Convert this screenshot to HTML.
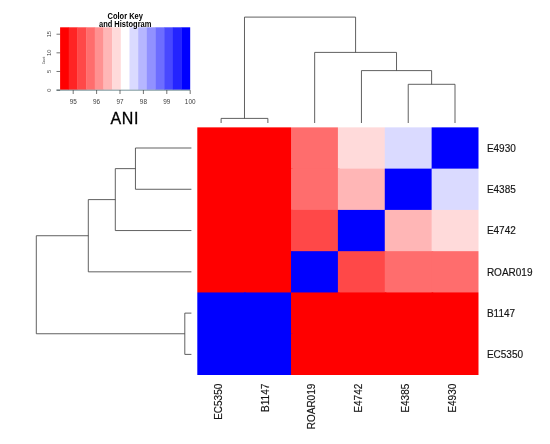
<!DOCTYPE html>
<html lang="en"><head><meta charset="utf-8"><title>ANI heatmap</title>
<style>html,body{margin:0;padding:0;background:#fff;}body{width:550px;height:444px;overflow:hidden;}svg{display:block;}text{font-family:"Liberation Sans",Arial,sans-serif;}</style></head><body>
<svg width="550" height="444" viewBox="0 0 550 444">
<rect x="0" y="0" width="550" height="444" fill="#ffffff"/>
<mask id="hm" maskUnits="userSpaceOnUse" x="190" y="120" width="300" height="265"><rect x="197.3" y="127.36" width="281.20" height="247.64" fill="#fff"/></mask>
<g mask="url(#hm)">
<rect x="195.30" y="125.36" width="50.47" height="44.87" fill="#FF0000"/>
<rect x="244.17" y="125.36" width="48.47" height="44.87" fill="#FF0000"/>
<rect x="291.03" y="125.36" width="48.47" height="44.87" fill="#FF6D6D"/>
<rect x="337.90" y="125.36" width="48.47" height="44.87" fill="#FFDADA"/>
<rect x="384.77" y="125.36" width="48.47" height="44.87" fill="#DADAFF"/>
<rect x="431.63" y="125.36" width="50.47" height="44.87" fill="#0000FF"/>
<rect x="195.30" y="168.63" width="50.47" height="42.87" fill="#FF0000"/>
<rect x="244.17" y="168.63" width="48.47" height="42.87" fill="#FF0000"/>
<rect x="291.03" y="168.63" width="48.47" height="42.87" fill="#FF6D6D"/>
<rect x="337.90" y="168.63" width="48.47" height="42.87" fill="#FFB6B6"/>
<rect x="384.77" y="168.63" width="48.47" height="42.87" fill="#0000FF"/>
<rect x="431.63" y="168.63" width="50.47" height="42.87" fill="#DADAFF"/>
<rect x="195.30" y="209.91" width="50.47" height="42.87" fill="#FF0000"/>
<rect x="244.17" y="209.91" width="48.47" height="42.87" fill="#FF0000"/>
<rect x="291.03" y="209.91" width="48.47" height="42.87" fill="#FF4848"/>
<rect x="337.90" y="209.91" width="48.47" height="42.87" fill="#0000FF"/>
<rect x="384.77" y="209.91" width="48.47" height="42.87" fill="#FFB6B6"/>
<rect x="431.63" y="209.91" width="50.47" height="42.87" fill="#FFDADA"/>
<rect x="195.30" y="251.18" width="50.47" height="42.87" fill="#FF0000"/>
<rect x="244.17" y="251.18" width="48.47" height="42.87" fill="#FF0000"/>
<rect x="291.03" y="251.18" width="48.47" height="42.87" fill="#0000FF"/>
<rect x="337.90" y="251.18" width="48.47" height="42.87" fill="#FF4848"/>
<rect x="384.77" y="251.18" width="48.47" height="42.87" fill="#FF6D6D"/>
<rect x="431.63" y="251.18" width="50.47" height="42.87" fill="#FF6D6D"/>
<rect x="195.30" y="292.45" width="50.47" height="42.87" fill="#0000FF"/>
<rect x="244.17" y="292.45" width="48.47" height="42.87" fill="#0000FF"/>
<rect x="291.03" y="292.45" width="48.47" height="42.87" fill="#FF0000"/>
<rect x="337.90" y="292.45" width="48.47" height="42.87" fill="#FF0000"/>
<rect x="384.77" y="292.45" width="48.47" height="42.87" fill="#FF0000"/>
<rect x="431.63" y="292.45" width="50.47" height="42.87" fill="#FF0000"/>
<rect x="195.30" y="333.73" width="50.47" height="44.87" fill="#0000FF"/>
<rect x="244.17" y="333.73" width="48.47" height="44.87" fill="#0000FF"/>
<rect x="291.03" y="333.73" width="48.47" height="44.87" fill="#FF0000"/>
<rect x="337.90" y="333.73" width="48.47" height="44.87" fill="#FF0000"/>
<rect x="384.77" y="333.73" width="48.47" height="44.87" fill="#FF0000"/>
<rect x="431.63" y="333.73" width="50.47" height="44.87" fill="#FF0000"/>
</g>
<g>
<rect x="60.10" y="27.3" width="8.97" height="62.40" fill="#FF0000"/>
<rect x="68.77" y="27.3" width="8.97" height="62.40" fill="#FF2424"/>
<rect x="77.45" y="27.3" width="8.97" height="62.40" fill="#FF4848"/>
<rect x="86.12" y="27.3" width="8.97" height="62.40" fill="#FF6D6D"/>
<rect x="94.79" y="27.3" width="8.97" height="62.40" fill="#FF9191"/>
<rect x="103.47" y="27.3" width="8.97" height="62.40" fill="#FFB6B6"/>
<rect x="112.14" y="27.3" width="8.97" height="62.40" fill="#FFDADA"/>
<rect x="120.81" y="27.3" width="8.97" height="62.40" fill="#FFFFFF"/>
<rect x="129.49" y="27.3" width="8.97" height="62.40" fill="#DADAFF"/>
<rect x="138.16" y="27.3" width="8.97" height="62.40" fill="#B6B6FF"/>
<rect x="146.83" y="27.3" width="8.97" height="62.40" fill="#9191FF"/>
<rect x="155.51" y="27.3" width="8.97" height="62.40" fill="#6D6DFF"/>
<rect x="164.18" y="27.3" width="8.97" height="62.40" fill="#4848FF"/>
<rect x="172.85" y="27.3" width="8.97" height="62.40" fill="#2424FF"/>
<rect x="181.53" y="27.3" width="8.67" height="62.40" fill="#0000FF"/>
</g>
<line x1="56.50" y1="90.20" x2="190.20" y2="90.20" stroke="#1f4f58" stroke-width="1" stroke-opacity="0.6"/>
<line x1="73.20" y1="90.20" x2="73.20" y2="94.00" stroke="#000000" stroke-width="1" stroke-opacity="0.55"/>
<text x="73.20" y="104" font-size="6.4" text-anchor="middle" fill="#3c3c3c">95</text>
<line x1="96.60" y1="90.20" x2="96.60" y2="94.00" stroke="#000000" stroke-width="1" stroke-opacity="0.55"/>
<text x="96.60" y="104" font-size="6.4" text-anchor="middle" fill="#3c3c3c">96</text>
<line x1="120.00" y1="90.20" x2="120.00" y2="94.00" stroke="#000000" stroke-width="1" stroke-opacity="0.55"/>
<text x="120.00" y="104" font-size="6.4" text-anchor="middle" fill="#3c3c3c">97</text>
<line x1="143.40" y1="90.20" x2="143.40" y2="94.00" stroke="#000000" stroke-width="1" stroke-opacity="0.55"/>
<text x="143.40" y="104" font-size="6.4" text-anchor="middle" fill="#3c3c3c">98</text>
<line x1="166.80" y1="90.20" x2="166.80" y2="94.00" stroke="#000000" stroke-width="1" stroke-opacity="0.55"/>
<text x="166.80" y="104" font-size="6.4" text-anchor="middle" fill="#3c3c3c">99</text>
<line x1="190.20" y1="90.20" x2="190.20" y2="94.00" stroke="#000000" stroke-width="1" stroke-opacity="0.55"/>
<text x="190.20" y="104" font-size="6.4" text-anchor="middle" fill="#3c3c3c">100</text>
<line x1="56.50" y1="90.10" x2="60.10" y2="90.10" stroke="#000000" stroke-width="1" stroke-opacity="0.55"/>
<text transform="translate(51.3,90.10) rotate(-90)" font-size="5.7" text-anchor="middle" fill="#3c3c3c">0</text>
<line x1="56.50" y1="71.47" x2="60.10" y2="71.47" stroke="#000000" stroke-width="1" stroke-opacity="0.55"/>
<text transform="translate(51.3,71.47) rotate(-90)" font-size="5.7" text-anchor="middle" fill="#3c3c3c">5</text>
<line x1="56.50" y1="52.84" x2="60.10" y2="52.84" stroke="#000000" stroke-width="1" stroke-opacity="0.55"/>
<text transform="translate(51.3,52.84) rotate(-90)" font-size="5.7" text-anchor="middle" fill="#3c3c3c">10</text>
<line x1="56.50" y1="34.21" x2="60.10" y2="34.21" stroke="#000000" stroke-width="1" stroke-opacity="0.55"/>
<text transform="translate(51.3,34.21) rotate(-90)" font-size="5.7" text-anchor="middle" fill="#3c3c3c">15</text>
<text transform="translate(44.7,60.5) rotate(-90)" font-size="2.9" text-anchor="middle" fill="#3c3c3c">Count</text>
<text transform="translate(125.2,18.8) scale(1,1.12)" font-size="7.5" font-weight="bold" text-anchor="middle" fill="#000">Color Key</text>
<text transform="translate(125.2,27.3) scale(1,1.12)" font-size="7.5" font-weight="bold" text-anchor="middle" fill="#000">and Histogram</text>
<text x="110.6" y="123.9" font-size="16" letter-spacing="0.6" fill="#000" stroke="#000" stroke-width="0.3">ANI</text>
<g>
<polyline fill="none" stroke="#444444" stroke-width="0.85" points="221.10,123.00 221.10,118.40 267.88,118.40 267.88,123.00"/>
<polyline fill="none" stroke="#444444" stroke-width="0.85" points="408.22,123.00 408.22,84.30 455.00,84.30 455.00,123.00"/>
<polyline fill="none" stroke="#444444" stroke-width="0.85" points="361.44,123.00 361.44,70.60 431.61,70.60 431.61,84.30"/>
<polyline fill="none" stroke="#444444" stroke-width="0.85" points="314.66,123.00 314.66,52.40 396.52,52.40 396.52,70.60"/>
<polyline fill="none" stroke="#444444" stroke-width="0.85" points="244.49,118.40 244.49,17.10 355.59,17.10 355.59,52.40"/>
</g>
<g>
<polyline fill="none" stroke="#444444" stroke-width="0.85" points="191.40,148.00 135.45,148.00 135.45,189.28 191.40,189.28"/>
<polyline fill="none" stroke="#444444" stroke-width="0.85" points="135.45,168.64 115.30,168.64 115.30,230.56 191.40,230.56"/>
<polyline fill="none" stroke="#444444" stroke-width="0.85" points="115.30,199.60 88.30,199.60 88.30,271.84 191.40,271.84"/>
<polyline fill="none" stroke="#444444" stroke-width="0.85" points="191.40,313.12 184.80,313.12 184.80,354.40 191.40,354.40"/>
<polyline fill="none" stroke="#444444" stroke-width="0.85" points="88.30,235.72 36.30,235.72 36.30,333.76 184.80,333.76"/>
</g>
<text x="486.9" y="151.90" font-size="10" fill="#141414" stroke="#141414" stroke-width="0.15">E4930</text>
<text x="486.9" y="192.90" font-size="10" fill="#141414" stroke="#141414" stroke-width="0.15">E4385</text>
<text x="486.9" y="233.90" font-size="10" fill="#141414" stroke="#141414" stroke-width="0.15">E4742</text>
<text x="486.9" y="275.90" font-size="10" fill="#141414" stroke="#141414" stroke-width="0.15">ROAR019</text>
<text x="486.9" y="316.90" font-size="10" fill="#141414" stroke="#141414" stroke-width="0.15">B1147</text>
<text x="486.9" y="357.90" font-size="10" fill="#141414" stroke="#141414" stroke-width="0.15">EC5350</text>
<text transform="translate(221.80,383.7) rotate(-90)" font-size="10" text-anchor="end" fill="#141414" stroke="#141414" stroke-width="0.15">EC5350</text>
<text transform="translate(268.58,383.7) rotate(-90)" font-size="10" text-anchor="end" fill="#141414" stroke="#141414" stroke-width="0.15">B1147</text>
<text transform="translate(315.36,383.7) rotate(-90)" font-size="10" text-anchor="end" fill="#141414" stroke="#141414" stroke-width="0.15">ROAR019</text>
<text transform="translate(362.14,383.7) rotate(-90)" font-size="10" text-anchor="end" fill="#141414" stroke="#141414" stroke-width="0.15">E4742</text>
<text transform="translate(408.92,383.7) rotate(-90)" font-size="10" text-anchor="end" fill="#141414" stroke="#141414" stroke-width="0.15">E4385</text>
<text transform="translate(455.70,383.7) rotate(-90)" font-size="10" text-anchor="end" fill="#141414" stroke="#141414" stroke-width="0.15">E4930</text>
</svg></body></html>
